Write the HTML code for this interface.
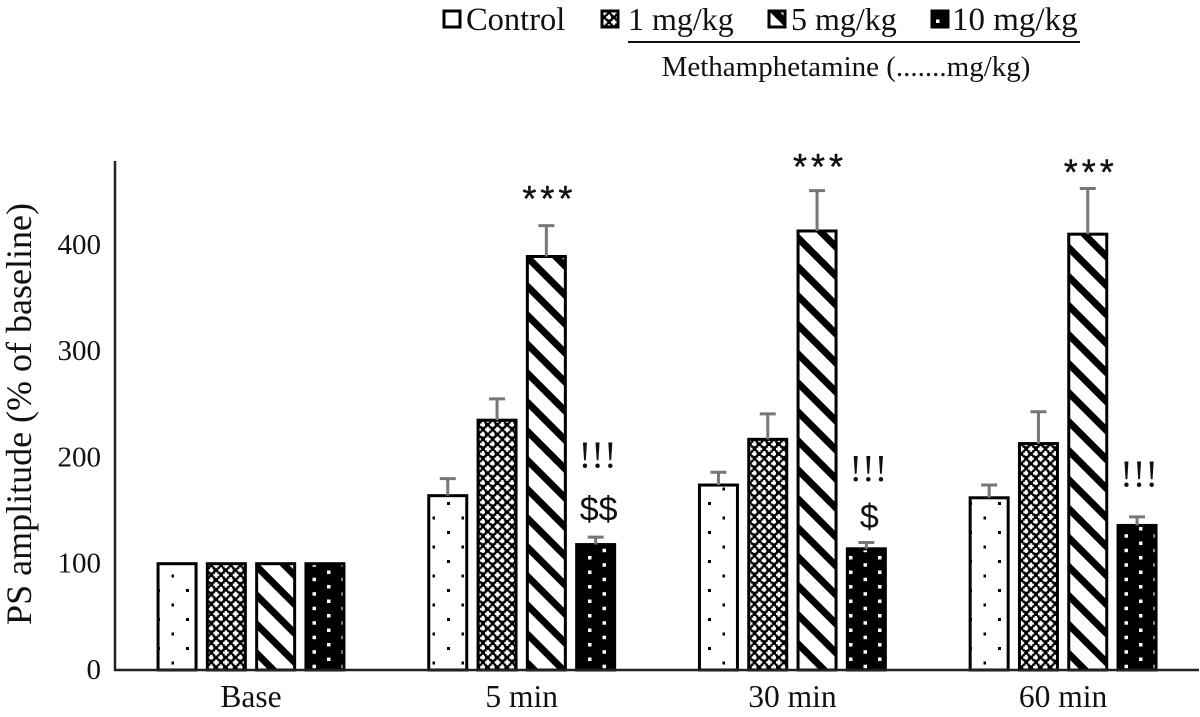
<!DOCTYPE html>
<html>
<head>
<meta charset="utf-8">
<style>
html,body{margin:0;padding:0;background:#fff;width:1200px;height:717px;overflow:hidden}
svg{display:block}
text{font-family:"Liberation Serif",serif;fill:#111}
.sans{font-family:"Liberation Sans",sans-serif}
</style>
</head>
<body>
<svg id="chart" width="1200" height="717" viewBox="0 0 1200 717" xmlns="http://www.w3.org/2000/svg">
<defs>
<pattern id="p-dots" patternUnits="userSpaceOnUse" width="29" height="29" x="0" y="3">
<rect width="29" height="29" fill="#fff"/>
<rect x="12" y="6" width="3" height="3" fill="#000"/>
<rect x="26.500" y="20.500" width="3" height="3" fill="#000"/>
</pattern>
<pattern id="p-check" patternUnits="userSpaceOnUse" width="9.7" height="9.7">
<rect width="9.7" height="9.7" fill="#000"/>
<rect x="1.600" y="0" width="2.400" height="5.600" fill="#fff"/>
<rect x="0" y="1.600" width="5.600" height="2.400" fill="#fff"/>
<rect x="6.450" y="4.850" width="2.400" height="4.850" fill="#fff"/>
<rect x="4.850" y="6.450" width="4.850" height="2.400" fill="#fff"/>
</pattern>
<pattern id="p-stripes" patternUnits="userSpaceOnUse" width="20.500" height="20.500" patternTransform="rotate(-45) translate(3 0)">
<rect width="20.500" height="20.500" fill="#fff"/>
<rect width="7" height="20.500" fill="#000"/>
</pattern>
<pattern id="p-black" patternUnits="userSpaceOnUse" width="29" height="14.500" x="2" y="3">
<rect width="29" height="14.500" fill="#000"/>
<rect x="6" y="2" width="3.500" height="3.500" fill="#fff"/>
<rect x="20.500" y="9.200" width="3.500" height="3.500" fill="#fff"/>
</pattern>
</defs>
<g id="bars"></g>
<g id="errors"></g>
<line x1="115" y1="161" x2="115" y2="671" stroke="#222" stroke-width="2.500"/>
<line x1="114" y1="670" x2="1199" y2="670" stroke="#222" stroke-width="2.500"/>
<g id="yticks"></g>
<g id="xticks"></g>
<g id="notes"></g>
<text transform="translate(31 414) rotate(-90)" text-anchor="middle" font-size="36">PS amplitude (% of baseline)</text>
<g>
<rect x="444" y="11" width="16" height="16" fill="url(#p-dots)" stroke="#000" stroke-width="3"/>
<text x="466" y="30" font-size="32.500">Control</text>
<rect x="602" y="11" width="16" height="16" fill="url(#p-check)" stroke="#000" stroke-width="3"/>
<text x="628" y="30" font-size="32">1 mg/kg</text>
<rect x="769" y="11" width="16" height="16" fill="url(#p-stripes)" stroke="#000" stroke-width="3"/>
<text x="791" y="30" font-size="32">5 mg/kg</text>
<rect x="932" y="11" width="16" height="16" fill="url(#p-black)" stroke="#000" stroke-width="3"/>
<text x="952" y="30" font-size="33">10 mg/kg</text>
<line x1="628" y1="42" x2="1080" y2="42" stroke="#111" stroke-width="2"/>
<text x="846" y="76" text-anchor="middle" font-size="29">Methamphetamine (.......mg/kg)</text>
</g>
</svg>
<script>
const categories = ['Base', '5 min', '30 min', '60 min'];
const seriesNames = ['control', '1-mg-kg', '5-mg-kg', '10-mg-kg'];
const controlValues = [100, 164, 174, 162];
const dose1Values = [100, 235, 217, 213];
const dose5Values = [100, 389, 413, 410];
const dose10Values = [100, 118, 114, 136];
const controlErrorTops = [100, 180, 186, 174];
const dose1ErrorTops = [100, 255, 241, 243];
const dose5ErrorTops = [100, 418, 451, 453];
const dose10ErrorTops = [100, 125, 120, 144];
const yTickLabels = [0, 100, 200, 300, 400];
const starLabels = ['', '***', '***', '***'];
const starLevels = [0, 447, 477, 472];
const bangLabels = ['', '!!!', '!!!', '!!!'];
const bangLevels = [0, 201, 188, 183];
const dollarLabels = ['', '$$', '$', ''];
const dollarLevels = [0, 152, 145, 0];

const SVG_NS = 'http://www.w3.org/2000/svg';
const seriesValues = [controlValues, dose1Values, dose5Values, dose10Values];
const seriesErrors = [controlErrorTops, dose1ErrorTops, dose5ErrorTops, dose10ErrorTops];
const seriesFills = ['url(#p-dots)', 'url(#p-check)', 'url(#p-stripes)', 'url(#p-black)'];

function yScale(v) { return 670 - v * 1.063; }
function groupX(i) { return 251 + i * 270.7; }
function barX(i, j) { return groupX(i) + (j - 1.5) * 49.3; }
function make(tag, parentId, attrs, txt) {
  const el = document.createElementNS(SVG_NS, tag);
  for (const k in attrs) el.setAttribute(k, attrs[k]);
  if (txt !== undefined) el.textContent = txt;
  document.getElementById(parentId).appendChild(el);
  return el;
}

categories.forEach(function (cat, i) {
  seriesValues.forEach(function (vals, j) {
    const cx = barX(i, j);
    const top = yScale(vals[i]);
    const bar = make('rect', 'bars', { x: cx - 19, y: top, width: 38, height: 670 - top, fill: seriesFills[j], stroke: '#000', 'stroke-width': 3 });
    
    
    const errTop = seriesErrors[j][i];
    if (errTop > vals[i]) {
      const stem = make('line', 'errors', { x1: cx, x2: cx, y1: top, y2: yScale(errTop), stroke: '#777', 'stroke-width': 3 });
      
      
      const cap = make('line', 'errors', { x1: cx - 8, x2: cx + 8, y1: yScale(errTop), y2: yScale(errTop), stroke: '#777', 'stroke-width': 3 });
      
      
    }
  });
  const xl = make('text', 'xticks', { x: groupX(i), y: 707, 'text-anchor': 'middle', 'font-size': 31.5 }, cat);
  
  

  if (starLabels[i]) {
    const s = make('text', 'notes', { x: barX(i, 2) + 3, y: yScale(starLevels[i]) + 16, 'text-anchor': 'middle', 'font-size': 36, 'letter-spacing': 4, class: 'sans', stroke: '#111', 'stroke-width': 0.4 }, starLabels[i]);
    
    
  }
  if (bangLabels[i]) {
    const b = make('text', 'notes', { x: barX(i, 3) + 2, y: yScale(bangLevels[i]) + 11, 'text-anchor': 'middle', 'font-size': 38, 'letter-spacing': 0 }, bangLabels[i]);
    
    
  }
  if (dollarLabels[i]) {
    const d = make('text', 'notes', { x: barX(i, 3) + 3, y: yScale(dollarLevels[i]) + 12, 'text-anchor': 'middle', 'font-size': 34, class: 'sans' }, dollarLabels[i]);
    
    
  }
});

yTickLabels.forEach(function (t) {
  const yl = make('text', 'yticks', { x: 101, y: yScale(t) + 9, 'text-anchor': 'end', 'font-size': 29 }, String(t));
  
  
});
</script>
</body>
</html>
